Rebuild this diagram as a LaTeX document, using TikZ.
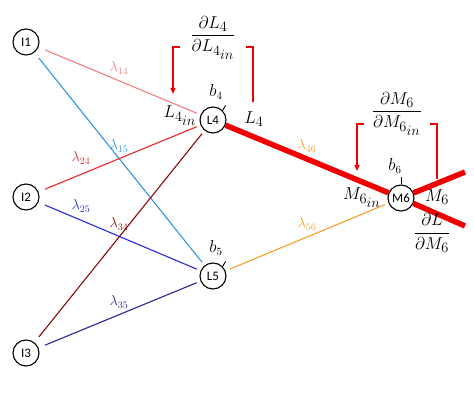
\documentclass[tikz,border=0pt]{standalone}
\usepackage{amsmath}
\usepackage{fontspec}
\setsansfont{Carlito}
\usetikzlibrary{arrows.meta}
\definecolor{cA}{RGB}{240,128,128}
\definecolor{cB}{RGB}{50,150,230}
\definecolor{cC}{RGB}{232,40,40}
\definecolor{cD}{RGB}{40,40,215}
\definecolor{cE}{RGB}{135,10,10}
\definecolor{cF}{RGB}{40,40,150}
\definecolor{cG}{RGB}{245,160,40}
\definecolor{cR}{RGB}{240,0,0}
\tikzset{
  neuron/.style={circle,draw,line width=1.1pt,minimum size=26pt,inner sep=0pt,font=\sffamily\fontsize{13}{15}\selectfont},
  wire/.style={line width=1.1pt,shorten <=7pt,shorten >=4pt},
  hot/.style={line width=5.5pt,cR},
  lam/.style={font=\fontsize{14}{16}\selectfont},
  blab/.style={font=\fontsize{16}{18}\selectfont},
  mlab/.style={font=\fontsize{19}{22}\selectfont},
  brk/.style={cR,line width=1.4pt},
  biasl/.style={line width=0.9pt}
}
\newcommand{\insub}[2]{#1_{#2_{\scriptstyle in}}}
\begin{document}
\begin{tikzpicture}[x=1pt,y=-1pt]
\useasboundingbox (0,0) rectangle (474,401);
% neurons
\node[neuron] (I1) at (26,42) {I1};
\node[neuron] (I2) at (26,197) {I2};
\node[neuron] (I3) at (26,353) {I3};
\node[neuron] (L4) at (213,120) {L4};
\node[neuron] (L5) at (213,276) {L5};
\node[neuron] (M6) at (401,198) {M6};
\coordinate (O1) at (465,172);
\coordinate (O2) at (465,226);
% wires
\draw[wire,cA] (I1) -- (L4);
\draw[wire,cB] (I1) -- (L5);
\draw[wire,cC] (I2) -- (L4);
\draw[wire,cD] (I2) -- (L5);
\draw[wire,cE] (I3) -- (L4);
\draw[wire,cF] (I3) -- (L5);
\draw[wire,cG,shorten <=5pt] (L5) -- (M6);
\draw[hot,shorten <=0pt] (L4) -- (M6);
\draw[hot] (M6) -- (O1);
\draw[hot] (M6) -- (O2);
% weight labels
\node[lam,text=cA] (w14) at (119,68) {$\lambda_{14}$};
\node[lam,text=cB] (w15) at (119,146) {$\lambda_{15}$};
\node[lam,text=cC] (w24) at (81,158) {$\lambda_{24}$};
\node[lam,text=cD] (w25) at (81,206) {$\lambda_{25}$};
\node[lam,text=cE] (w34) at (119,224) {$\lambda_{34}$};
\node[lam,text=cF] (w35) at (119,302) {$\lambda_{35}$};
\node[lam,text=cG] (w46) at (307,146) {$\lambda_{46}$};
\node[lam,text=cG] (w56) at (307,224) {$\lambda_{56}$};
% biases
\draw[biasl] (L4.45) -- ++(3,-5) coordinate (t4);
\node[blab] (b4) at (216,92) {$b_4$};
\draw[biasl] (L5.45) -- ++(3,-5) coordinate (t5);
\node[blab] (b5) at (216,248) {$b_5$};
\draw[biasl] (M6.north) -- ++(0,-7) coordinate (t6);
\node[blab] (b6) at (395,166) {$b_6$};
% L4 labels
\node[mlab] (L4in) at (180,116) {$\insub{L}{4}$};
\node[mlab] (L4o) at (254,119) {$L_4$};
\node[mlab] (dL4) at (213,38) {$\dfrac{\partial L_4}{\partial \insub{L}{4}}$};
\draw[brk,-{Triangle[length=6pt,width=5pt]}] (180,47) -- (173,47) -- (173,94);
\draw[brk] (246,47) -- (253,47) -- (253,102);
% M6 labels
\node[mlab] (M6in) at (362,198) {$\insub{M}{6}$};
\node[mlab] (M6o) at (437,197) {$M_6$};
\node[mlab] (dM6) at (397,114) {$\dfrac{\partial M_6}{\partial \insub{M}{6}}$};
\node[mlab] (dL) at (432,233) {$\dfrac{\partial L}{\partial M_6}$};
\draw[brk,-{Triangle[length=6pt,width=5pt]}] (364,124) -- (357,124) -- (357,171);
\draw[brk] (430,124) -- (437,124) -- (437,179);
\end{tikzpicture}
\end{document}
